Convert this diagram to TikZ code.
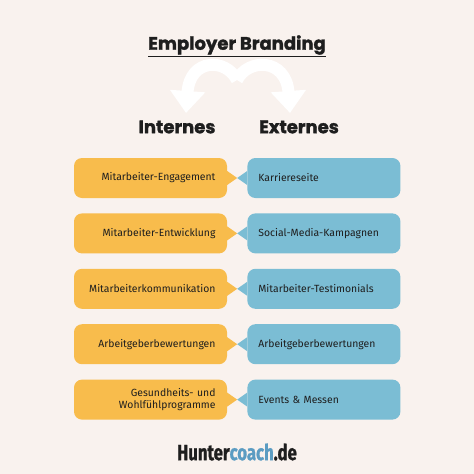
\documentclass[tikz,border=0pt]{standalone}
\usepackage{fontspec}
\setmainfont{Fira Sans}
\newfontfamily\titlefont{Poppins}[BoldFeatures={FakeBold=1.6}]
\newfontfamily\brandfont{Fira Sans}[FakeStretch=0.76, BoldFeatures={FakeBold=1}]
\usepackage{tikz}
\usetikzlibrary{positioning, arrows.meta}
\definecolor{bgColor}{HTML}{F9F2EE}
\definecolor{intColor}{HTML}{F8BC4C}
\definecolor{extColor}{HTML}{7BBDD4}
\definecolor{txtColor}{HTML}{1E1E1E}
\definecolor{coachColor}{HTML}{5B9CC2}
\tikzstyle{intBox} = [rectangle, rounded corners=8pt, fill=intColor, minimum width=153pt, minimum height=40pt, text width=130pt, inner xsep=11.5pt, align=right, text=txtColor, font=\fontsize{10.4}{12}\selectfont]
\tikzstyle{extBox} = [rectangle, rounded corners=8pt, fill=extColor, minimum width=153pt, minimum height=40pt, text width=131pt, inner xsep=11pt, align=left, text=txtColor, font=\fontsize{10.4}{12}\selectfont]
\tikzstyle{headNode} = [text=txtColor, font=\titlefont\bfseries\fontsize{18}{21}\selectfont]
\tikzstyle{bigArrow} = [white, line width=12pt, -{Triangle[width=34pt,length=22pt]}]

\begin{document}
\begin{tikzpicture}[x=1pt, y=-1pt, node distance=15pt]
        \useasboundingbox (0,0) rectangle (474,474);
        \fill [bgColor] (0,0) rectangle (474,474);

        \node (title) [headNode] at (237,46) {\underline{Employer Branding}};
        \node (intern) [headNode] at (177,127) {Internes};
        \node (extern) [headNode] at (299,127) {Externes};

        % white arrows
        \coordinate (split) at (237,80);
        \coordinate (tipL) at (186,113);
        \coordinate (tipR) at (290,113);
        \draw [bigArrow] (split) .. controls (226,58) and (190,58) .. (tipL);
        \draw [bigArrow] (split) .. controls (248,58) and (286,58) .. (tipR);

        \node (int1) [intBox] at (150.5,178) {Mitarbeiter-Engagement};
        \node (int2) [intBox, below=of int1] {Mitarbeiter-Entwicklung};
        \node (int3) [intBox, below=of int2] {Mitarbeiterkommunikation};
        \node (int4) [intBox, below=of int3] {Arbeitgeberbewertungen};
        \node (int5) [intBox, below=of int4] {Gesundheits- und\\Wohlfühlprogramme};

        \node (ext1) [extBox, right=20pt of int1] {Karriereseite};
        \node (ext2) [extBox, right=20pt of int2] {Social-Media-Kampagnen};
        \node (ext3) [extBox, right=20pt of int3] {Mitarbeiter-Testimonials};
        \node (ext4) [extBox, right=20pt of int4] {Arbeitgeberbewertungen};
        \node (ext5) [extBox, right=20pt of int5] {Events \& Messen};

        % speech bubble tips
        \fill [intColor] ([yshift=7pt]int1.east) -- ([xshift=10pt]int1.east) -- ([yshift=-7pt]int1.east) -- cycle;
        \fill [extColor] ([yshift=7pt]ext1.west) -- ([xshift=-10pt]ext1.west) -- ([yshift=-7pt]ext1.west) -- cycle;
        \fill [intColor] ([yshift=7pt]int2.east) -- ([xshift=10pt]int2.east) -- ([yshift=-7pt]int2.east) -- cycle;
        \fill [extColor] ([yshift=7pt]ext2.west) -- ([xshift=-10pt]ext2.west) -- ([yshift=-7pt]ext2.west) -- cycle;
        \fill [intColor] ([yshift=7pt]int3.east) -- ([xshift=10pt]int3.east) -- ([yshift=-7pt]int3.east) -- cycle;
        \fill [extColor] ([yshift=7pt]ext3.west) -- ([xshift=-10pt]ext3.west) -- ([yshift=-7pt]ext3.west) -- cycle;
        \fill [intColor] ([yshift=7pt]int4.east) -- ([xshift=10pt]int4.east) -- ([yshift=-7pt]int4.east) -- cycle;
        \fill [extColor] ([yshift=7pt]ext4.west) -- ([xshift=-10pt]ext4.west) -- ([yshift=-7pt]ext4.west) -- cycle;
        \fill [intColor] ([yshift=7pt]int5.east) -- ([xshift=10pt]int5.east) -- ([yshift=-7pt]int5.east) -- cycle;
        \fill [extColor] ([yshift=7pt]ext5.west) -- ([xshift=-10pt]ext5.west) -- ([yshift=-7pt]ext5.west) -- cycle;

        \node (brand) [text=txtColor, font=\brandfont\bfseries\fontsize{22}{25}\selectfont] at (237,452) {Hunter\textcolor{coachColor}{coach}.de};
    \end{tikzpicture}
\end{document}
